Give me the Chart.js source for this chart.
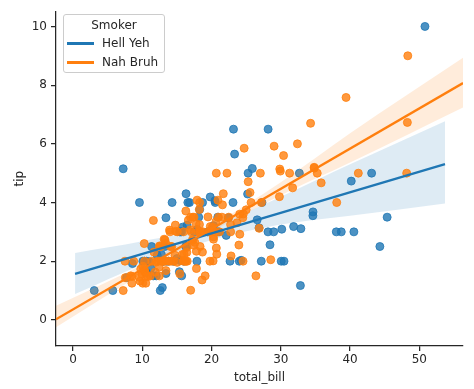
<!DOCTYPE html>
<html>
<head>
<meta charset="utf-8">
<script src="https://cdn.jsdelivr.net/npm/chart.js@4.4.0/dist/chart.umd.min.js"></script>
<style>
  body { margin: 0; background: #fff; }
  #wrap { position: relative; width: 474px; height: 389px; }
  .legend {
    position: absolute; left: 63px; top: 14px; width: 100px; height: 57px;
    border: 1px solid #cccccc; border-radius: 3px; background: rgba(255,255,255,0.8);
    font-family: 'DejaVu Sans', sans-serif; font-size: 12px; color: #262626;
  }
  .legend .title { position: absolute; left: 0; width: 100%; top: 3px; text-align: center; }
  .legend .item { position: absolute; left: 0; height: 14px; line-height: 14px; }
  .legend .swatch { position: absolute; left: 3px; top: 6px; width: 27px; height: 2.5px; }
  .legend .lbl { position: absolute; left: 38px; top: 0; white-space: nowrap; }
</style>
</head>
<body>
<div id="wrap">
  <canvas id="chart" width="474" height="389"></canvas>
  <div class="legend">
    <div class="title">Smoker</div>
    <div class="item" style="top:21px"><div class="swatch" style="background:#1f77b4"></div><div class="lbl">Hell Yeh</div></div>
    <div class="item" style="top:40px"><div class="swatch" style="background:#ff7f0e"></div><div class="lbl">Nah Bruh</div></div>
  </div>
</div>
<script>
// smoker = Yes ("Hell Yeh")
const smokerBill = [38.01, 11.24, 20.29, 13.81, 11.02, 18.29, 3.07, 15.01, 26.86, 25.28,
  17.92, 19.44, 32.68, 28.97, 5.75, 16.32, 40.17, 27.28, 12.03, 21.01,
  11.35, 15.38, 44.3, 22.42, 15.36, 20.49, 25.21, 14.31, 16.0, 17.51,
  10.59, 10.63, 50.81, 15.81, 7.25, 31.85, 16.82, 32.9, 17.89, 14.48,
  9.6, 34.63, 34.65, 23.33, 45.35, 23.17, 40.55, 20.9, 30.46, 18.15,
  23.1, 15.69, 19.81, 28.44, 15.48, 16.58, 10.34, 43.11, 13.0, 13.51,
  18.71, 12.74, 13.0, 16.4, 20.53, 16.47, 26.59, 38.73, 24.27, 12.76,
  30.06, 25.89, 13.27, 28.17, 12.9, 28.15, 11.59, 7.74, 30.14, 12.16,
  13.42, 8.58, 13.42, 16.27, 10.09, 22.12, 24.01, 15.69, 15.53, 12.6,
  32.83, 27.18, 22.67];
const smokerTip = [3.0, 1.76, 3.21, 2.0, 1.98, 3.76, 1.0, 2.09, 3.14, 5.0,
  3.08, 3.0, 5.0, 3.0, 1.0, 4.3, 4.73, 4.0, 1.5, 3.0,
  2.5, 3.0, 2.5, 3.48, 1.64, 4.06, 4.29, 4.0, 2.0, 3.0,
  1.61, 2.0, 10.0, 3.16, 5.15, 3.18, 4.0, 3.11, 2.0, 2.0,
  4.0, 3.55, 3.68, 5.65, 3.5, 6.5, 3.0, 3.5, 2.0, 3.5,
  4.0, 1.5, 4.19, 2.56, 2.02, 4.0, 2.0, 5.0, 2.0, 2.0,
  4.0, 2.01, 2.0, 2.5, 4.0, 3.23, 3.41, 3.0, 2.03, 2.23,
  2.0, 5.16, 2.5, 6.5, 1.1, 3.0, 1.5, 1.44, 3.09, 2.2,
  3.48, 1.92, 1.58, 2.5, 2.0, 2.88, 2.0, 3.0, 3.0, 1.0,
  1.17, 2.0, 2.0];

// smoker = No ("Nah Bruh")
const nonSmokerBill = [16.99, 10.34, 21.01, 23.68, 24.59, 25.29, 8.77, 26.88, 15.04, 14.78,
  10.27, 35.26, 15.42, 18.43, 14.83, 21.58, 10.33, 16.29, 16.97, 20.65,
  17.92, 20.29, 15.77, 39.42, 19.82, 17.81, 13.37, 12.69, 21.7, 19.65,
  9.55, 18.35, 15.06, 20.69, 17.78, 24.06, 16.31, 16.93, 18.69, 31.27,
  16.04, 17.46, 13.94, 9.68, 30.4, 18.29, 22.23, 32.4, 28.55, 18.04,
  12.54, 10.29, 34.81, 9.94, 25.56, 19.49, 26.41, 48.27, 17.59, 20.08,
  16.45, 20.23, 12.02, 17.07, 14.73, 10.51, 27.2, 22.76, 17.29, 16.66,
  10.07, 15.98, 34.83, 13.03, 18.28, 24.71, 21.16, 22.49, 22.75, 12.46,
  20.92, 18.24, 14.0, 7.25, 38.07, 23.95, 25.71, 17.31, 29.93, 10.65,
  12.43, 24.08, 11.69, 13.42, 14.26, 15.95, 12.48, 29.8, 8.52, 14.52,
  11.38, 22.82, 19.08, 20.27, 11.17, 12.26, 18.26, 8.51, 10.33, 14.15,
  13.16, 17.47, 34.3, 41.19, 27.05, 16.43, 8.35, 18.64, 11.87, 9.78,
  7.51, 14.07, 13.13, 17.26, 24.55, 19.77, 29.85, 48.17, 25.0, 13.39,
  16.49, 21.5, 12.66, 16.21, 13.81, 24.52, 20.76, 31.71, 20.69, 7.56,
  48.33, 15.98, 20.45, 13.28, 11.61, 10.77, 10.07, 35.83, 29.03, 17.82,
  18.78];
const nonSmokerTip = [1.01, 1.66, 3.5, 3.31, 3.61, 4.71, 2.0, 3.12, 1.96, 3.23,
  1.71, 5.0, 1.57, 3.0, 3.02, 3.92, 1.67, 3.71, 3.5, 3.35,
  4.08, 2.75, 2.23, 7.58, 3.18, 2.34, 2.0, 2.0, 4.3, 3.0,
  1.45, 2.5, 3.0, 2.45, 3.27, 3.6, 2.0, 3.07, 2.31, 5.0,
  2.24, 2.54, 3.06, 1.32, 5.6, 3.0, 5.0, 6.0, 2.05, 3.0,
  2.5, 2.6, 5.2, 1.56, 4.34, 3.51, 1.5, 6.73, 2.64, 3.15,
  2.47, 2.01, 1.97, 3.0, 2.2, 1.25, 4.0, 3.0, 2.71, 3.4,
  1.83, 2.03, 5.17, 2.0, 4.0, 5.85, 3.0, 3.5, 3.25, 1.5,
  4.08, 3.76, 3.0, 1.0, 4.0, 2.55, 4.0, 3.5, 5.07, 1.5,
  1.8, 2.92, 2.31, 1.68, 2.5, 2.0, 2.52, 4.2, 1.48, 2.0,
  2.0, 2.18, 1.5, 2.83, 1.5, 2.0, 3.25, 1.25, 2.0, 2.0,
  2.75, 3.5, 6.7, 5.0, 5.0, 2.3, 1.5, 1.36, 1.63, 1.73,
  2.0, 2.5, 2.0, 2.74, 2.0, 2.0, 5.14, 5.0, 3.75, 2.61,
  2.0, 3.5, 2.5, 2.0, 2.0, 3.48, 2.24, 4.5, 5.0, 1.44,
  9.0, 3.0, 3.0, 2.72, 3.39, 1.47, 1.25, 4.67, 5.92, 1.75,
  3.0];

// regression lines and confidence bands
const blueLineX = [0.3, 53.7];
const blueLineY = [1.57, 5.31];
const blueCiX = [0.3, 10, 20, 30, 40, 53.7];
const blueUpper = [2.28, 2.68, 3.2, 4.2, 5.3, 6.77];
const blueLower = [0.88, 1.88, 2.72, 3.25, 3.55, 3.97];

const orangeLineX = [-2.45, 56.3];
const orangeLineY = [0.02, 8.07];
const orangeCiX = [-2.45, 10, 20, 30, 40, 56.3];
const orangeUpper = [0.48, 1.88, 3.2, 4.69, 6.36, 8.93];
const orangeLower = [-0.25, 1.58, 3.0, 4.25, 5.36, 7.24];

const xTicks = [0, 10, 20, 30, 40, 50];
const yTicks = [0, 2, 4, 6, 8, 10];

const toPts = (xs, ys) => xs.map((x, i) => ({x: x, y: ys[i]}));

const blue = '#1f77b4', orange = '#ff7f0e';
const blueA = 'rgba(31,119,180,0.8)', orangeA = 'rgba(255,127,14,0.8)';
const none = 'rgba(0,0,0,0)';
const ink = '#262626';
const font = {family: "'DejaVu Sans'", size: 12};

const scatterDs = (data, col, order) => ({
  data: data, backgroundColor: col, borderColor: col, borderWidth: 1,
  pointRadius: 4, pointHoverRadius: 4, order: order
});
const bandDs = (data, fill, col, order) => ({
  type: 'line', data: data, borderColor: none, borderWidth: 0, pointRadius: 0,
  fill: fill, backgroundColor: col, cubicInterpolationMode: 'monotone', order: order
});
const lineDs = (data, col, order) => ({
  type: 'line', data: data, borderColor: col, borderWidth: 2.3, pointRadius: 0,
  fill: false, order: order
});

const axisStyle = (ticks) => ({
  type: 'linear',
  afterBuildTicks: s => { s.ticks = ticks.map(v => ({value: v})); },
  grid: {display: true, drawOnChartArea: false, drawTicks: true, tickLength: 5, color: ink, lineWidth: 1.25},
  border: {display: true, color: ink, width: 1.25},
  ticks: {color: ink, font: font, autoSkip: false, maxRotation: 0}
});

const xAxis = axisStyle(xTicks);
xAxis.min = -2.45; xAxis.max = 56.3;
xAxis.afterFit = s => { s.height = 43; };
xAxis.ticks.padding = 2;
xAxis.title = {display: true, text: 'total_bill', color: ink, font: font, padding: {top: 0, bottom: 4}};

const yAxis = axisStyle(yTicks);
yAxis.min = -0.89; yAxis.max = 10.52;
yAxis.afterFit = s => { s.width = 56; };
yAxis.ticks.padding = 4;
yAxis.title = {display: true, text: 'tip', color: ink, font: font, padding: {top: 13, bottom: 0}};

new Chart(document.getElementById('chart'), {
  type: 'scatter',
  data: {
    datasets: [
      scatterDs(toPts(smokerBill, smokerTip), blueA, 6),
      bandDs(toPts(blueCiX, blueUpper), '+1', 'rgba(31,119,180,0.15)', 5),
      bandDs(toPts(blueCiX, blueLower), false, none, 5),
      scatterDs(toPts(nonSmokerBill, nonSmokerTip), orangeA, 4),
      bandDs(toPts(orangeCiX, orangeUpper), '+1', 'rgba(255,127,14,0.15)', 3),
      bandDs(toPts(orangeCiX, orangeLower), false, none, 3),
      lineDs(toPts(blueLineX, blueLineY), blue, 2),
      lineDs(toPts(orangeLineX, orangeLineY), orange, 1)
    ]
  },
  options: {
    responsive: false,
    animation: false,
    layout: {padding: {left: 0, right: 11, top: 8, bottom: 0}},
    plugins: {legend: {display: false}, tooltip: {enabled: false}},
    scales: {x: xAxis, y: yAxis}
  }
});
</script>
</body>
</html>
